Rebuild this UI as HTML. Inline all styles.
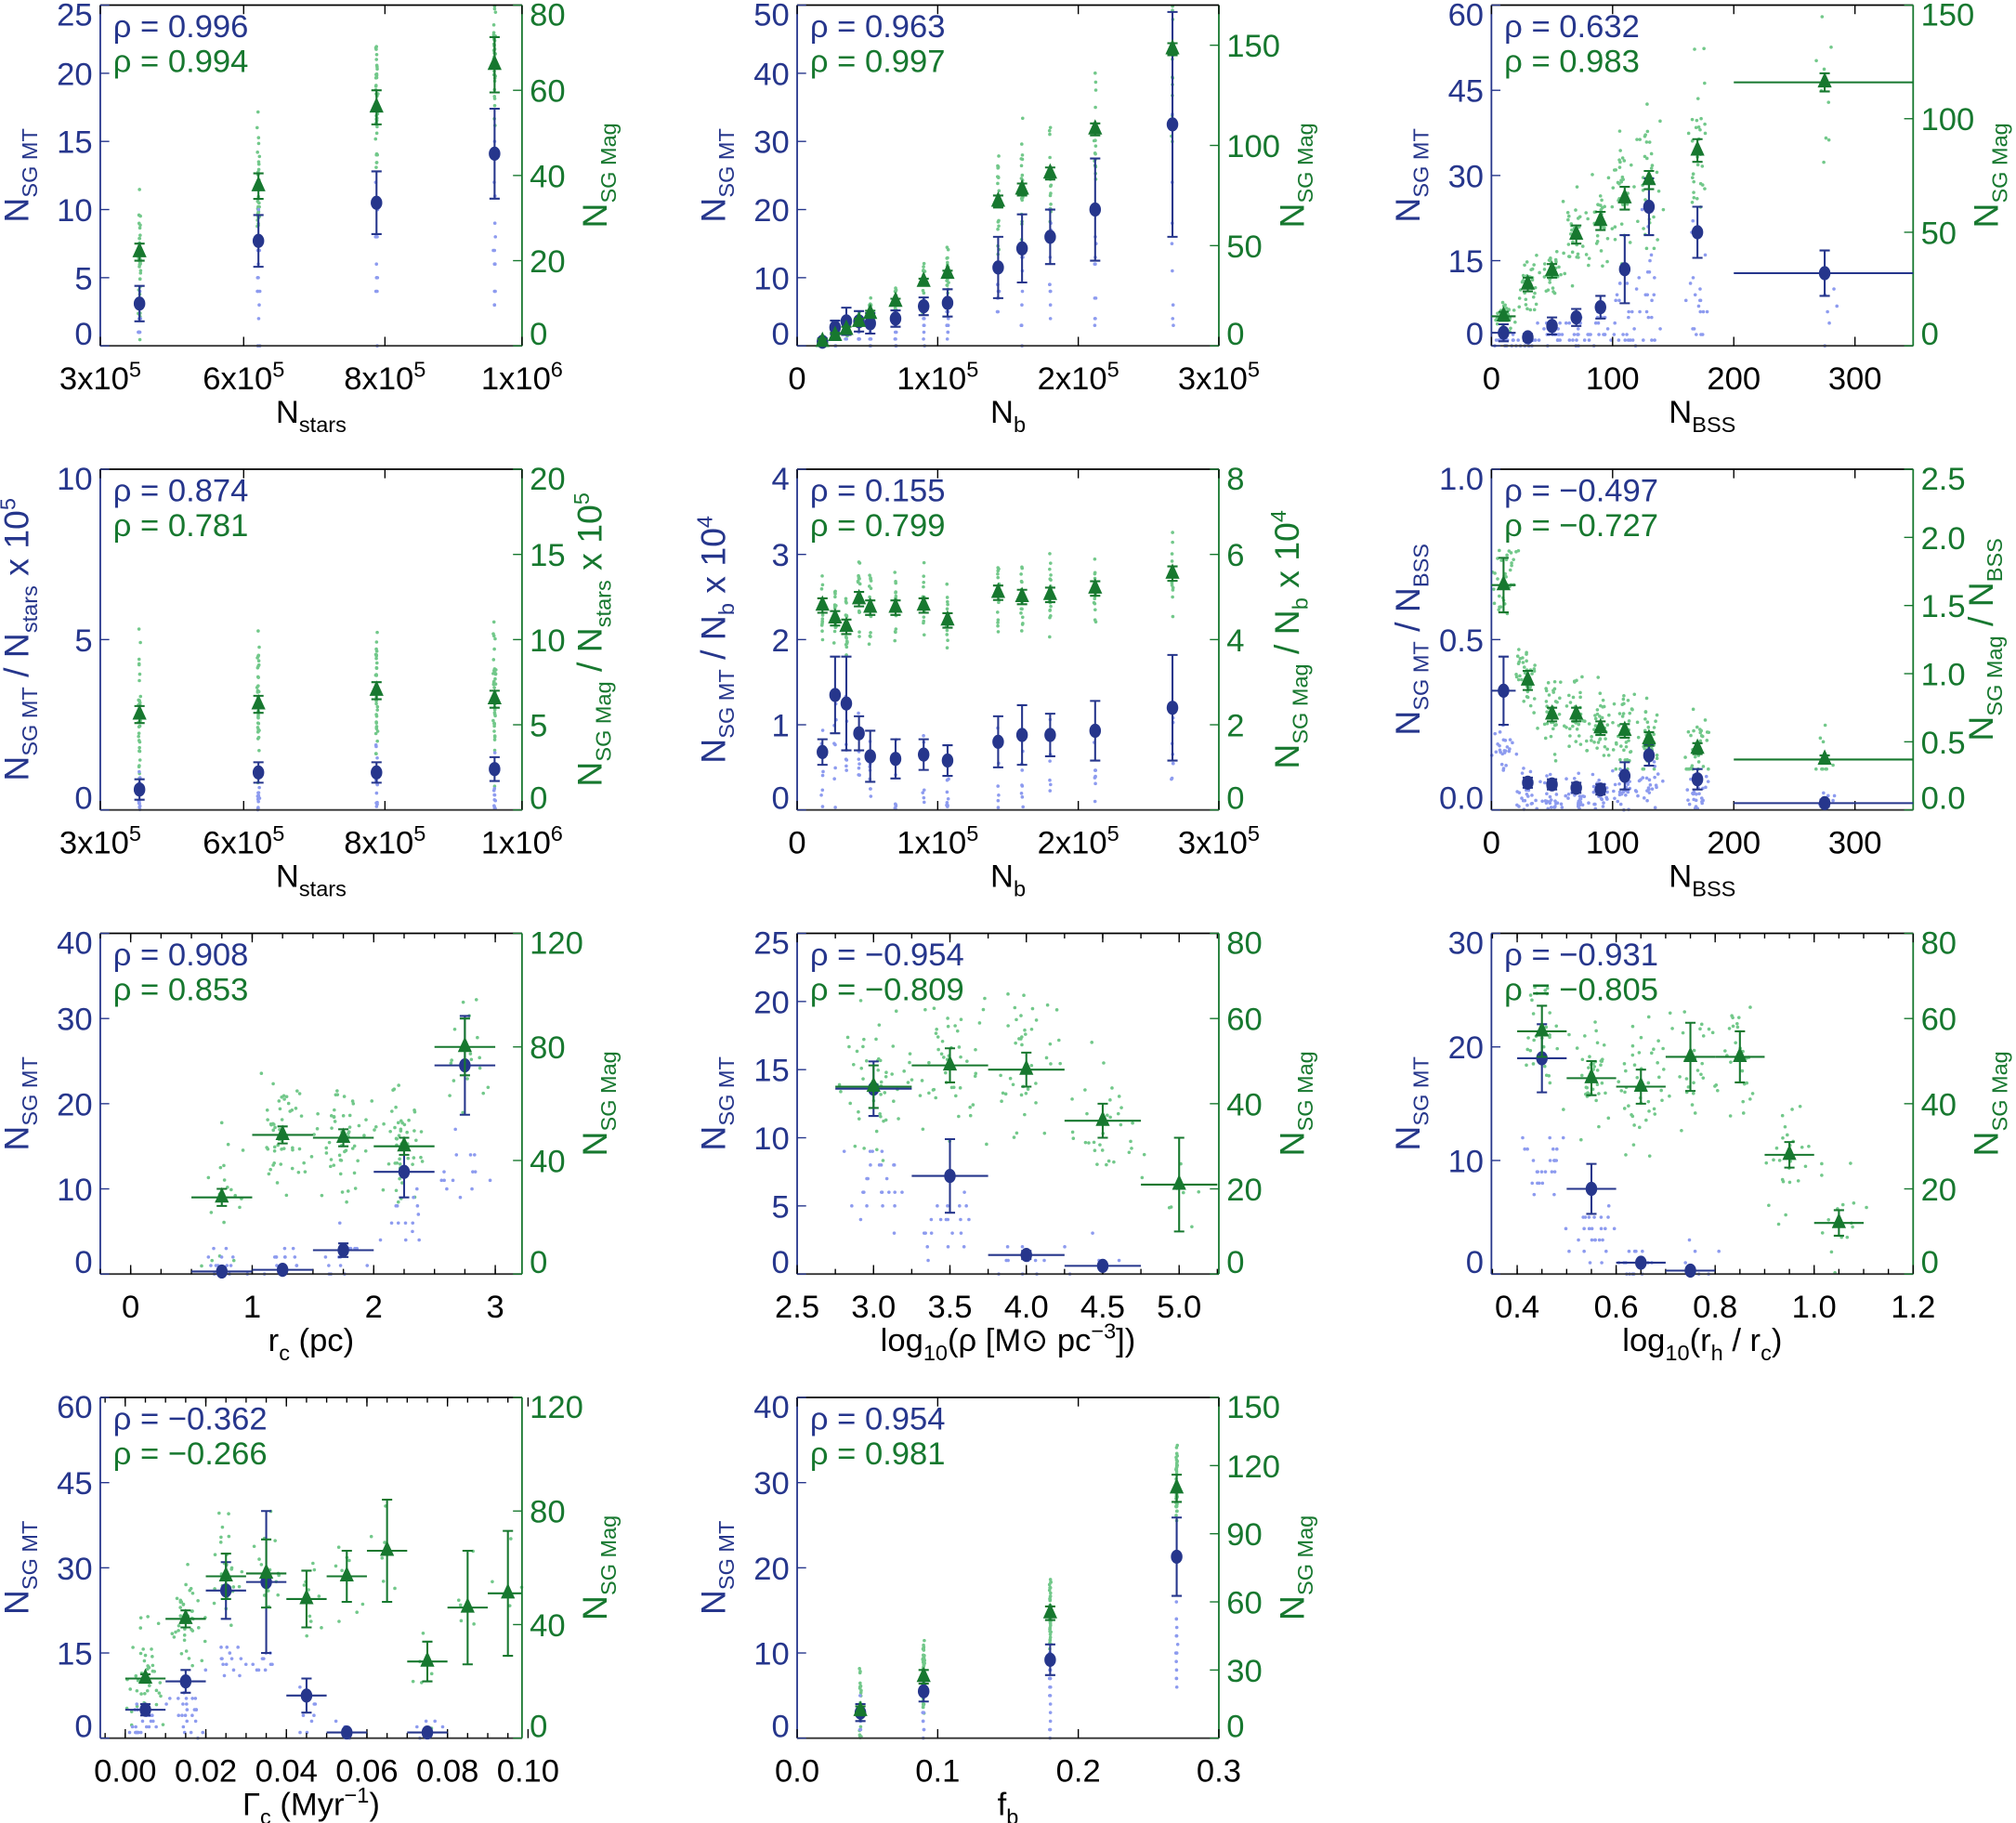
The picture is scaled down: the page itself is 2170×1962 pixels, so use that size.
<!DOCTYPE html>
<html><head><meta charset="utf-8">
<style>
html,body{margin:0;padding:0;background:#fff;}
svg{display:block;}
text{font-family:"Liberation Sans",Arial,sans-serif;}
</style></head>
<body>
<svg id="s" width="2170" height="1962" viewBox="0 0 1568 1418" preserveAspectRatio="none" xmlns="http://www.w3.org/2000/svg"></svg>
<script>
var B="#26368c",G="#17782f",LB="#8d9bef",LG="#72c88a";
var out=[];
var seed=12345;function rnd(){seed=(seed*16807)%2147483647;return seed/2147483647;}
function gauss(){return (rnd()+rnd()+rnd()-1.5)/1.5;}
var cols=[[78,406],[620,948],[1160,1488]];
var rows=[[4,269],[365,630],[726,991],[1087,1352]];
function T(x,y,s,opt){opt=opt||{};out.push('<text x="'+x+'" y="'+y+'" font-size="'+(opt.fs||25)+'" fill="'+(opt.c||'#000')+'" text-anchor="'+(opt.a||'middle')+'"'+(opt.tr?' transform="'+opt.tr+'"':'')+'>'+s+'</text>');}
function sup(t){return '<tspan dy="-10" font-size="17">'+t+'</tspan>';}
function sub(t){return '<tspan dy="7" font-size="17">'+t+'</tspan>';}
function sci(a,e){return a+'x10'+sup(e);}
function panel(p){
 var c=cols[p.c],r=rows[p.r],x0=c[0],x1=c[1],y0=r[0],y1=r[1];
 var X=function(v){return x0+(v-p.xd[0])/(p.xd[1]-p.xd[0])*(x1-x0);};
 var YL=function(v){return y1-v/p.yl*(y1-y0);};
 var YR=function(v){return y1-v/p.yr*(y1-y0);};
 (p.g).forEach(function(q){var n=q[4]||22;for(var i=0;i<n;i++){var xx=q[0]+gauss()*(p.jx||0.002*(p.xd[1]-p.xd[0]));var yy=Math.max(0.3,q[1]+gauss()*(p.sg||q[1]*0.6));if(yy>p.yr)continue;var cx=X(xx);if(cx<x0||cx>x1)continue;out.push('<circle cx="'+cx.toFixed(1)+'" cy="'+YR(yy).toFixed(1)+'" r="1.3" fill="'+LG+'"/>');}});
 (p.b).forEach(function(q){var n=q[4]||14;for(var i=0;i<n;i++){var xx=q[0]+gauss()*(p.jx||0.002*(p.xd[1]-p.xd[0]));var yy=Math.max(0,Math.abs(q[1]*0.5+gauss()*(p.sb||q[1]*1.0)));if(p.quant)yy=Math.round(yy/p.quant)*p.quant;if(yy>p.yl)continue;var cx=X(xx);if(cx<x0||cx>x1)continue;out.push('<circle cx="'+cx.toFixed(1)+'" cy="'+YL(yy).toFixed(1)+'" r="1.3" fill="'+LB+'"/>');}});
 out.push('<line x1="'+x0+'" y1="'+y0+'" x2="'+x1+'" y2="'+y0+'" stroke="#000" stroke-width="1.3"/>');
 out.push('<line x1="'+x0+'" y1="'+y1+'" x2="'+x1+'" y2="'+y1+'" stroke="#333" stroke-width="1.3"/>');
 out.push('<line x1="'+x0+'" y1="'+y0+'" x2="'+x0+'" y2="'+y1+'" stroke="'+B+'" stroke-width="1.3"/>');
 out.push('<line x1="'+x1+'" y1="'+y0+'" x2="'+x1+'" y2="'+y1+'" stroke="'+G+'" stroke-width="1.3"/>');
 p.xt.forEach(function(t){var x=X(t[0]);out.push('<line x1="'+x+'" y1="'+y1+'" x2="'+x+'" y2="'+(y1-7)+'" stroke="#000"/><line x1="'+x+'" y1="'+y0+'" x2="'+x+'" y2="'+(y0+7)+'" stroke="#000"/>');T(x,y1+34,t[1]);});
 if(p.mx){var n0=Math.ceil(p.xd[0]/p.mx),n1=Math.floor(p.xd[1]/p.mx);for(var k=n0;k<=n1;k++){var xm=X(k*p.mx);out.push('<line x1="'+xm+'" y1="'+y1+'" x2="'+xm+'" y2="'+(y1-4)+'" stroke="#000"/><line x1="'+xm+'" y1="'+y0+'" x2="'+xm+'" y2="'+(y0+4)+'" stroke="#000"/>');}}
 p.ylt.forEach(function(t){var y=YL(t[0]);out.push('<line x1="'+x0+'" y1="'+y+'" x2="'+(x0+7)+'" y2="'+y+'" stroke="'+B+'"/>');var yy=y+9;if(t[0]==0)yy=y-1;if(t[0]==p.yl)yy=y+16;T(x0-6,yy,t[1],{a:'end',c:B});});
 p.yrt.forEach(function(t){var y=YR(t[0]);out.push('<line x1="'+x1+'" y1="'+y+'" x2="'+(x1-7)+'" y2="'+y+'" stroke="'+G+'"/>');var yy=y+9;if(t[0]==0)yy=y-1;if(t[0]==p.yr)yy=y+16;T(x1+6,yy,t[1],{a:'start',c:G});});
 T((x0+x1)/2,y1+60,p.xl);
 T(0,0,p.ll,{c:B,tr:'translate('+(x0-56)+','+((y0+y1)/2)+') rotate(-90)',fs:27});
 T(0,0,p.rl,{c:G,tr:'translate('+(x1+(p.rlo||66))+','+((y0+y1)/2)+') rotate(-90)',fs:27});
 T(x0+10,y0+25,'ρ = '+p.rho[0],{a:'start',c:B});
 T(x0+10,y0+52,'ρ = '+p.rho[1],{a:'start',c:G});
 p.b.forEach(function(q){var x=X(q[0]),y=YL(q[1]);var e=q[2];if(e){var ya=YL(q[1]+e),yb=YL(Math.max(0,q[1]-e));out.push('<path d="M'+x+' '+ya+'V'+yb+'M'+(x-4)+' '+ya+'H'+(x+4)+'M'+(x-4)+' '+yb+'H'+(x+4)+'" stroke="'+B+'" stroke-width="1.5" fill="none"/>');}
  if(q[3]){out.push('<line x1="'+Math.max(x0,X(q[0]-q[3]))+'" y1="'+y+'" x2="'+Math.min(x1,X(q[0]+q[3]))+'" y2="'+y+'" stroke="'+B+'" stroke-width="1.5"/>');}
  out.push('<ellipse cx="'+x+'" cy="'+y+'" rx="4.5" ry="5.5" fill="'+B+'"/>');});
 p.g.forEach(function(q){var x=X(q[0]),y=YR(q[1]);var e=q[2];if(e){var ya=YR(q[1]+e),yb=YR(Math.max(0,q[1]-e));out.push('<path d="M'+x+' '+ya+'V'+yb+'M'+(x-4)+' '+ya+'H'+(x+4)+'M'+(x-4)+' '+yb+'H'+(x+4)+'" stroke="'+G+'" stroke-width="1.5" fill="none"/>');}
  if(q[3]){out.push('<line x1="'+Math.max(x0,X(q[0]-q[3]))+'" y1="'+y+'" x2="'+Math.min(x1,X(q[0]+q[3]))+'" y2="'+y+'" stroke="'+G+'" stroke-width="1.5"/>');}
  out.push('<path d="M'+x+' '+(y-8)+'L'+(x+5.5)+' '+(y+4)+'L'+(x-5.5)+' '+(y+4)+'Z" fill="'+G+'"/>');});
}
function rng(a,b,s,f){var r=[];var n=Math.round((b-a)/s);for(var k=0;k<=n;k++){var vv=Math.round((a+k*s)*1000)/1000;r.push([vv,f?f(vv):String(vv)]);}return r;}
var ord=[[0,sci(3,5)],[0.34,sci(6,5)],[0.675,sci(8,5)],[1,sci(1,6)]];
var nbt=[[0,'0'],[1,sci(1,5)],[2,sci(2,5)],[3,sci(3,5)]];
var nbx=[.18,.27,.35,.44,.52,.7,.9,1.07,1.43,1.6,1.8,2.12,2.67];
var NMT='N'+sub('SG MT'),NMG='N'+sub('SG Mag');
panel({c:0,r:0,xd:[0,1],xt:ord,yl:25,yr:80,ylt:rng(0,25,5),yrt:rng(0,80,20),xl:'N'+sub('stars'),ll:NMT,rl:NMG,rho:['0.996','0.994'],jx:0.004,sg:22,
 b:[[0.093,3.1,1.3],[0.375,7.7,1.9],[0.655,10.5,2.3],[0.935,14.1,3.3]],
 g:[[0.093,22,2,0,40],[0.375,37.5,3,0,40],[0.655,56,4,0,40],[0.935,66,6.5,0,40]],quant:1});
var p2b=[0.6,2.7,3.6,3.6,3.3,4,5.8,6.3,11.5,14.3,16,20,32.5],p2be=[.5,1,2,1.5,1.5,1.2,1.3,2,4.5,5,4,7.5,16.5];
var p2g=[2,5,8,12,16,22,32,36,72,78,86,108,148];
panel({c:1,r:0,xd:[0,3],xt:nbt,yl:50,yr:170,ylt:rng(0,50,10),yrt:rng(0,150,50),xl:'N'+sub('b'),ll:NMT,rl:NMG,rho:['0.963','0.997'],jx:0.01,
 b:nbx.map(function(x,i){return [x,p2b[i],p2be[i],0,10];}),g:nbx.map(function(x,i){return [x,p2g[i],i>7?3:1.5,0,18];}),quant:1});
var bx=[10,30,50,70,90,110,130,170,275];
var p3b=[2.3,1.5,3.5,5,6.8,13.5,24.5,20,12.8],p3be=[1.5,.6,1.5,1.5,2,6,5,4.5,4];
var p3g=[13,27,33,49,55,65,73,86,116],p3ge=[2,3,3,4,4,5,4,5,4];
panel({c:2,r:0,xd:[0,348],xt:rng(0,300,100),yl:60,yr:150,ylt:rng(0,60,15),yrt:rng(0,150,50),xl:'N'+sub('BSS'),ll:NMT,rl:NMG,rho:['0.632','0.983'],jx:14,
 b:bx.map(function(x,i){return [x,p3b[i],p3be[i],i==8?75:(i==0?10:0),i==8?6:20];}),g:bx.map(function(x,i){return [x,p3g[i],p3ge[i],i==8?75:(i==0?10:0),i==8?10:30];}),quant:1});
panel({c:0,r:1,xd:[0,1],xt:ord,yl:10,yr:20,ylt:rng(0,10,5),yrt:rng(0,20,5),xl:'N'+sub('stars'),ll:NMT+'<tspan dy="-7"> / N</tspan>'+sub('stars')+'<tspan dy="-7"> x 10</tspan>'+sup(5),rl:NMG+'<tspan dy="-7"> / N</tspan>'+sub('stars')+'<tspan dy="-7"> x 10</tspan>'+sup(5),rlo:62,rho:['0.874','0.781'],jx:0.004,sg:6,sb:1.5,
 b:[[0.093,0.6,0.3],[0.375,1.1,0.3],[0.655,1.1,0.3],[0.935,1.2,0.35]],
 g:[[0.093,5.6,0.5,0,40],[0.375,6.2,0.5,0,40],[0.655,7,0.5,0,40],[0.935,6.5,0.5,0,40]]});
var p5b=[.68,1.35,1.25,.9,.63,.6,.65,.58,.8,.88,.88,.93,1.2],p5be=[.15,.45,.55,.2,.3,.23,.18,.18,.3,.35,.25,.35,.62];
var p5g=[4.8,4.5,4.3,4.95,4.75,4.75,4.8,4.45,5.1,5,5.05,5.2,5.55];
panel({c:1,r:1,xd:[0,3],xt:nbt,yl:4,yr:8,ylt:rng(0,4,1),yrt:rng(0,8,2),xl:'N'+sub('b'),ll:NMT+'<tspan dy="-7"> / N</tspan>'+sub('b')+'<tspan dy="-7"> x 10</tspan>'+sup(4),rl:NMG+'<tspan dy="-7"> / N</tspan>'+sub('b')+'<tspan dy="-7"> x 10</tspan>'+sup(4),rlo:62,rho:['0.155','0.799'],jx:0.01,sg:1.3,sb:0.9,
 b:nbx.map(function(x,i){return [x,p5b[i],p5be[i],0,8];}),g:nbx.map(function(x,i){return [x,p5g[i],0.17,0,16];})});
var p6b=[.35,.08,.075,.065,.06,.1,.16,.09,.02],p6be=[.1,.015,.015,.015,.015,.04,.03,.03,.01];
var p6g=[1.65,.95,.7,.7,.6,.58,.52,.45,.37],p6ge=[.2,.07,.05,.05,.05,.05,.05,.04,.03];
panel({c:2,r:1,xd:[0,348],xt:rng(0,300,100),yl:1,yr:2.5,ylt:[[0,'0.0'],[0.5,'0.5'],[1,'1.0']],yrt:[[0,'0.0'],[0.5,'0.5'],[1,'1.0'],[1.5,'1.5'],[2,'2.0'],[2.5,'2.5']],xl:'N'+sub('BSS'),ll:NMT+'<tspan dy="-7"> / N</tspan>'+sub('BSS'),rl:NMG+'<tspan dy="-7"> / N</tspan>'+sub('BSS'),rlo:62,rho:['−0.497','−0.727'],jx:14,sg:0.4,sb:0.1,
 b:bx.map(function(x,i){return [x,p6b[i],p6be[i],i==8?75:(i==0?10:0),i==8?6:25];}),g:bx.map(function(x,i){return [x,p6g[i],p6ge[i],i==8?75:(i==0?10:0),i==8?10:35];})});
panel({c:0,r:2,xd:[-0.25,3.22],xt:rng(0,3,1),yl:40,yr:120,ylt:rng(0,40,10),yrt:rng(0,120,40),xl:'r'+sub('c')+'<tspan dy="-7"> (pc)</tspan>',ll:NMT,rl:NMG,rho:['0.908','0.853'],jx:0.3,sg:32,sb:6,mx:0.25,quant:1,
 b:[[0.75,0.3,0,0.25],[1.25,0.5,0,0.25],[1.75,2.8,0.8,0.25],[2.25,12,3,0.25],[2.75,24.5,5.8,0.25]],
 g:[[0.75,27,3,0.25,20],[1.25,49,3,0.25,50],[1.75,48,3,0.25,50],[2.25,45,3,0.25,50],[2.75,80,10,0.25,20]]});
panel({c:1,r:2,xd:[2.5,5.26],xt:rng(2.5,5,0.5,function(v){return v.toFixed(1);}),yl:25,yr:80,ylt:rng(0,25,5),yrt:rng(0,80,20),xl:'log'+sub('10')+'<tspan dy="-7">(ρ [M</tspan><tspan>⊙</tspan><tspan> pc</tspan>'+sup('−3')+'<tspan dy="10">])</tspan>',ll:NMT,rl:NMG,rho:['−0.954','−0.809'],jx:0.32,sg:24,sb:4,mx:0.25,quant:1,
 b:[[3.0,13.6,2,0.25,25],[3.5,7.2,2.7,0.25,20],[4.0,1.4,0.3,0.25,10],[4.5,0.6,0,0.25,5]],
 g:[[3.0,44,5,0.25,50],[3.5,49,4,0.25,50],[4.0,48,4,0.25,40],[4.5,36,4,0.25,30],[5.0,21,11,0.25,10]]});
panel({c:2,r:2,xd:[0.348,1.2],xt:rng(0.4,1.2,0.2,function(v){return v.toFixed(1);}),yl:30,yr:80,ylt:rng(0,30,10),yrt:rng(0,80,20),xl:'log'+sub('10')+'<tspan dy="-7">(r</tspan>'+sub('h')+'<tspan dy="-7"> / r</tspan>'+sub('c')+'<tspan dy="-7">)</tspan>',ll:NMT,rl:NMG,rho:['−0.931','−0.805'],jx:0.07,sg:20,sb:4,mx:0.05,quant:1,
 b:[[0.45,19,3,0.05,25],[0.55,7.5,2.2,0.05,25],[0.65,1,0,0.05,15],[0.75,0.3,0,0.05,6]],
 g:[[0.45,57,6,0.05,30],[0.55,46,4,0.05,40],[0.65,44,4,0.05,40],[0.75,51,8,0.05,30],[0.85,51,6,0.05,25],[0.95,28,3,0.05,25],[1.05,12,3,0.05,15]]});
panel({c:0,r:3,xd:[-0.0062,0.0985],xt:rng(0,0.1,0.02,function(v){return v.toFixed(2);}),yl:60,yr:120,ylt:rng(0,60,15),yrt:rng(0,120,40),xl:'Γ'+sub('c')+'<tspan dy="-7"> (Myr</tspan>'+sup('−1')+'<tspan dy="10">)</tspan>',ll:NMT,rl:NMG,rho:['−0.362','−0.266'],jx:0.006,sg:28,sb:7,mx:0.005,quant:1,
 b:[[.005,5,1,.005,25],[.015,10,2,.005,25],[.025,26,5,.005,15],[.035,27.5,12.5,.005,10],[.045,7.5,3,.005,8],[.055,1,0,.005,5],[.075,1,0,.005,5]],
 g:[[.005,21,1.5,.005,40],[.015,42,3,.005,40],[.025,57,8,.005,25],[.035,58,12,.005,15],[.045,49,10,.005,10],[.055,57,9,.005,8],[.065,66,18,.005,6],[.075,27,7,.005,6],[.085,46,20,.005,5],[.095,51,22,.005,5]]});
panel({c:1,r:3,xd:[0,0.3],xt:rng(0,0.3,0.1,function(v){return v.toFixed(1);}),yl:40,yr:150,ylt:rng(0,40,10),yrt:rng(0,150,30),xl:'f'+sub('b'),ll:NMT,rl:NMG,rho:['0.954','0.981'],jx:0.0008,sb:8,quant:1,
 b:[[.045,3,1,0,10],[.09,5.5,1.2,0,12],[.18,9.2,1.8,0,20],[.27,21.3,4.6,0,15]],
 g:[[.045,12,2,0,40],[.09,27,3,0,60],[.18,55,3,0,60],[.27,110,6,0,50]],sg:25});
document.getElementById('s').innerHTML=out.join('');
</script>
</body></html>
